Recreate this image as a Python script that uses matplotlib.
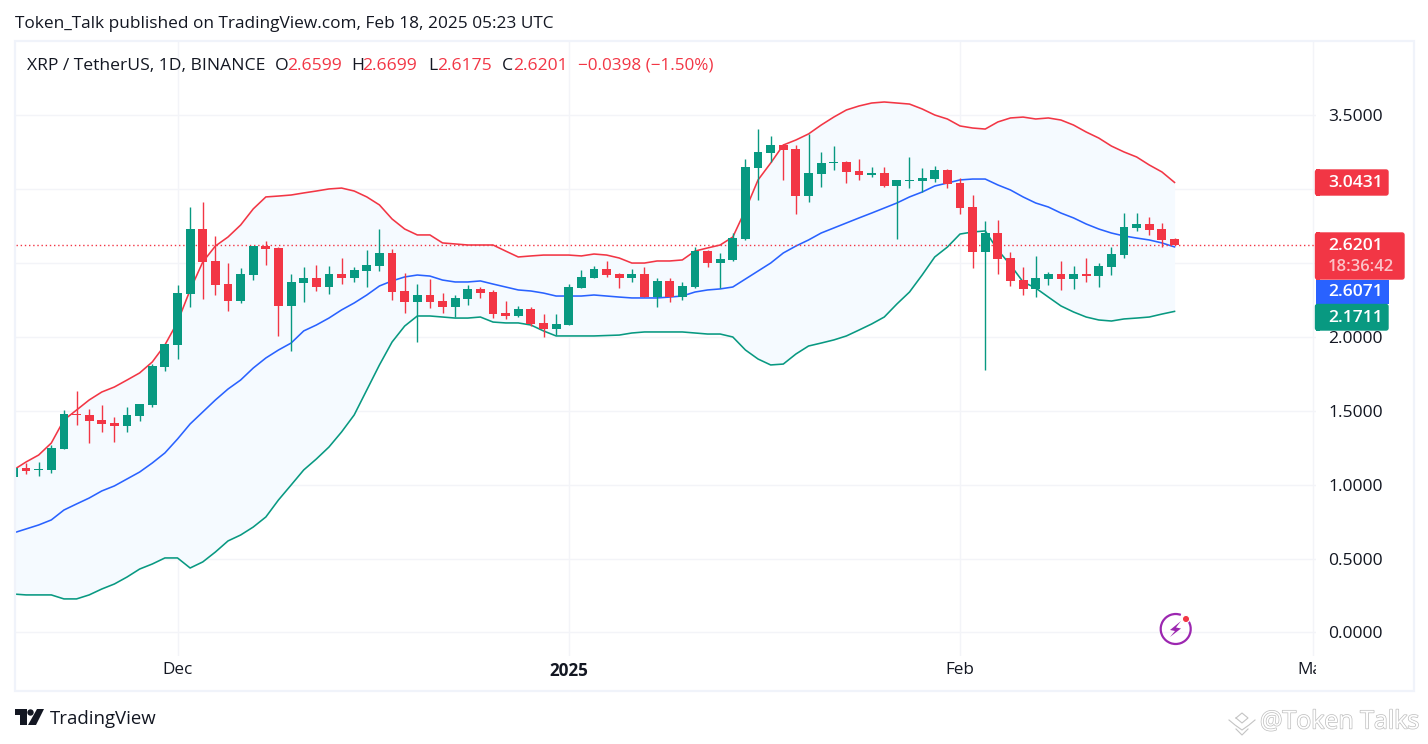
import numpy as np
import pandas as pd
import matplotlib
matplotlib.use('Agg')
import matplotlib.pyplot as plt
import matplotlib.dates as mdates
import matplotlib.patheffects as pe
from matplotlib.patches import Rectangle, FancyBboxPatch, Polygon, Circle, Arc
from matplotlib.transforms import Bbox

plt.rcParams['font.family'] = ['Open Sans', 'DejaVu Sans']

RED = '#f23645'
GREEN = '#089981'
BLUE = '#2962ff'
GRID = '#f3f4f8'
INK = '#131722'

dates = pd.date_range('2024-11-18', '2025-02-18')

opens = [1.051, 1.112, 1.099, 1.099, 1.241, 1.477, 1.471, 1.437, 1.416, 1.396, 1.464, 1.538, 1.795,
         1.944, 2.289, 2.728, 2.512, 2.356, 2.241, 2.417, 2.613, 2.600, 2.208, 2.363, 2.397, 2.336, 2.424, 2.397, 2.444, 2.478, 2.566, 2.309, 2.235, 2.282, 2.241, 2.201, 2.255, 2.323, 2.302, 2.160, 2.140, 2.187, 2.093, 2.052,
         2.079, 2.329, 2.397, 2.458, 2.424, 2.397, 2.424, 2.268, 2.377, 2.268, 2.336, 2.579, 2.498, 2.519, 2.661, 3.141, 3.242, 3.296, 3.269, 2.951, 3.100, 3.174, 3.181, 3.120, 3.093, 3.107, 3.019, 3.053, 3.053, 3.066, 3.127,
         3.039, 2.877, 2.573, 2.701, 2.532, 2.383, 2.323, 2.390, 2.424, 2.390, 2.424, 2.410, 2.471, 2.552, 2.735, 2.762, 2.728, 2.6599]
highs = [1.112, 1.148, 1.153, 1.268, 1.504, 1.633, 1.511, 1.538, 1.457, 1.525, 1.545, 1.815, 1.951,
         2.350, 2.877, 2.911, 2.681, 2.498, 2.465, 2.613, 2.647, 2.606, 2.424, 2.471, 2.485, 2.478, 2.532, 2.471, 2.586, 2.728, 2.593, 2.431, 2.356, 2.390, 2.295, 2.282, 2.350, 2.336, 2.316, 2.241, 2.208, 2.201, 2.153, 2.153,
         2.356, 2.451, 2.478, 2.512, 2.431, 2.458, 2.471, 2.397, 2.397, 2.370, 2.606, 2.586, 2.566, 2.701, 3.201, 3.404, 3.357, 3.303, 3.296, 3.371, 3.249, 3.289, 3.188, 3.201, 3.147, 3.147, 3.060, 3.215, 3.141, 3.154, 3.134,
         3.073, 2.958, 2.782, 2.789, 2.573, 2.471, 2.546, 2.438, 2.512, 2.478, 2.532, 2.498, 2.606, 2.836, 2.836, 2.809, 2.769, 2.6699]
lows = [1.045, 1.074, 1.058, 1.081, 1.241, 1.403, 1.281, 1.356, 1.288, 1.356, 1.430, 1.525, 1.768,
        1.849, 2.201, 2.255, 2.282, 2.174, 2.228, 2.383, 2.485, 2.005, 1.903, 2.235, 2.309, 2.289, 2.356, 2.370, 2.336, 2.444, 2.248, 2.160, 1.964, 2.194, 2.160, 2.133, 2.214, 2.262, 2.126, 2.120, 2.133, 2.072, 1.998, 2.011,
        2.079, 2.329, 2.397, 2.404, 2.329, 2.370, 2.268, 2.201, 2.235, 2.248, 2.329, 2.471, 2.329, 2.512, 2.654, 2.924, 3.181, 3.060, 2.830, 2.911, 3.012, 3.127, 3.039, 3.060, 3.080, 3.012, 2.661, 3.005, 2.978, 3.046, 3.005,
        2.830, 2.465, 1.775, 2.424, 2.343, 2.282, 2.268, 2.350, 2.316, 2.323, 2.370, 2.336, 2.417, 2.532, 2.715, 2.688, 2.606, 2.6175]
closes = [1.112, 1.092, 1.105, 1.247, 1.477, 1.471, 1.430, 1.410, 1.396, 1.471, 1.545, 1.802, 1.951,
          2.295, 2.728, 2.505, 2.350, 2.241, 2.424, 2.613, 2.593, 2.208, 2.370, 2.397, 2.336, 2.424, 2.397, 2.451, 2.485, 2.566, 2.302, 2.235, 2.282, 2.235, 2.201, 2.262, 2.323, 2.295, 2.153, 2.140, 2.187, 2.086, 2.052, 2.086,
          2.336, 2.404, 2.458, 2.417, 2.397, 2.424, 2.268, 2.377, 2.268, 2.343, 2.579, 2.498, 2.525, 2.667, 3.147, 3.249, 3.296, 3.262, 2.951, 3.107, 3.174, 3.181, 3.114, 3.093, 3.107, 3.019, 3.060, 3.060, 3.073, 3.127, 3.032,
          2.870, 2.573, 2.701, 2.525, 2.377, 2.323, 2.397, 2.424, 2.390, 2.424, 2.410, 2.478, 2.559, 2.742, 2.762, 2.721, 2.654, 2.6201]

upper_band = [1.099, 1.153, 1.200, 1.281, 1.437, 1.504, 1.572, 1.626, 1.660, 1.707, 1.755, 1.829, 1.944,
              2.099, 2.316, 2.505, 2.613, 2.674, 2.755, 2.864, 2.945, 2.951, 2.958, 2.972, 2.985, 2.999, 3.005, 2.985, 2.945, 2.891, 2.796, 2.728, 2.688, 2.688, 2.634, 2.627, 2.620, 2.620, 2.620, 2.579, 2.539, 2.546, 2.552, 2.552,
              2.552, 2.546, 2.559, 2.552, 2.532, 2.498, 2.498, 2.512, 2.512, 2.519, 2.579, 2.600, 2.620, 2.674, 2.857, 3.060, 3.174, 3.296, 3.330, 3.371, 3.431, 3.485, 3.533, 3.560, 3.580, 3.587, 3.580, 3.573, 3.540, 3.499, 3.472,
              3.425, 3.411, 3.404, 3.452, 3.479, 3.485, 3.472, 3.479, 3.465, 3.431, 3.384, 3.343, 3.289, 3.249, 3.215, 3.161, 3.114, 3.0431]
basis_band = [0.673, 0.700, 0.727, 0.761, 0.828, 0.869, 0.909, 0.957, 0.991, 1.038, 1.085, 1.146, 1.214,
              1.308, 1.410, 1.491, 1.572, 1.646, 1.707, 1.788, 1.856, 1.910, 1.957, 2.039, 2.079, 2.126, 2.181, 2.228, 2.282, 2.343, 2.377, 2.404, 2.417, 2.410, 2.383, 2.370, 2.370, 2.377, 2.356, 2.336, 2.316, 2.309, 2.295, 2.275,
              2.275, 2.275, 2.282, 2.275, 2.268, 2.262, 2.262, 2.262, 2.268, 2.275, 2.302, 2.316, 2.323, 2.336, 2.390, 2.444, 2.498, 2.566, 2.613, 2.654, 2.701, 2.735, 2.769, 2.803, 2.836, 2.870, 2.904, 2.945, 2.978, 3.019, 3.039,
              3.060, 3.066, 3.066, 3.026, 2.992, 2.945, 2.904, 2.877, 2.836, 2.803, 2.762, 2.728, 2.701, 2.681, 2.667, 2.654, 2.634, 2.6071]
lower_band = [0.260, 0.254, 0.254, 0.254, 0.227, 0.227, 0.254, 0.294, 0.328, 0.375, 0.429, 0.463, 0.504,
              0.504, 0.436, 0.477, 0.544, 0.619, 0.659, 0.713, 0.781, 0.896, 0.997, 1.099, 1.173, 1.254, 1.356, 1.471, 1.640, 1.809, 1.964, 2.072, 2.140, 2.140, 2.133, 2.126, 2.126, 2.133, 2.099, 2.093, 2.093, 2.079, 2.039, 2.005,
              2.005, 2.005, 2.005, 2.008, 2.011, 2.025, 2.032, 2.032, 2.032, 2.032, 2.025, 2.018, 2.018, 1.998, 1.910, 1.849, 1.809, 1.815, 1.883, 1.937, 1.957, 1.978, 2.005, 2.045, 2.086, 2.133, 2.221, 2.302, 2.417, 2.539, 2.606,
              2.694, 2.708, 2.715, 2.586, 2.485, 2.370, 2.329, 2.268, 2.208, 2.167, 2.133, 2.113, 2.106, 2.120, 2.126, 2.133, 2.153, 2.1711]

price_ticks = [0.0, 0.5, 1.0, 1.5, 2.0, 2.5, 3.0, 3.5]
# 2.5000 and 3.0000 are hidden behind the price tags in the picture
price_labels = ['0.0000', '0.5000', '1.0000', '1.5000', '2.0000', '', '', '3.5000']
time_ticks = ['2024-12-01', '2025-01-01', '2025-02-01', '2025-03-01']
time_labels = ['Dec', '2025', 'Feb', 'Mar']

last_price = closes[-1]
ohlc_labels = ['O', 'H', 'L', 'C']
ohlc_values = [opens[-1], highs[-1], lows[-1], closes[-1]]
ohlc_label_x = [275, 351.5, 428.5, 502]
ohlc_value_x = [287, 362, 437.5, 513]


def draw_candles(ax, x):
    for i in range(len(x)):
        color = GREEN if closes[i] >= opens[i] else RED
        ax.vlines(x[i], lows[i], highs[i], color=color, lw=1.0, zorder=4)
        bottom = min(opens[i], closes[i])
        height = max(abs(closes[i] - opens[i]), 0.008)
        ax.bar(x[i], height, bottom=bottom, width=0.70, color=color, lw=0, zorder=5)


def draw_tag(over, x0, y0, x1, y1, color):
    over.add_patch(FancyBboxPatch((x0, y0 + 1), x1 - x0 - 1, y1 - y0 - 2,
                                  boxstyle='round,pad=0,rounding_size=2',
                                  mutation_aspect=1, fc=color, ec=color, lw=1))
    over.add_patch(Rectangle((x0, y0), 4, y1 - y0, fc=color, ec='none'))


fig = plt.figure(figsize=(14.28, 7.44), dpi=100, facecolor='white')
ax = fig.add_axes([15.5 / 1428, (744 - 656) / 744, 1300 / 1428, 614 / 744])

x = mdates.date2num(dates)
ax.set_xlim(x[0] + 0.163, x[0] + 103.17)
ax.set_ylim(-0.159, 3.9926)

ax.fill_between(x, lower_band, upper_band, color='#f5faff', lw=0, zorder=1)
ax.plot(x, upper_band, color=RED, lw=1.15, zorder=3)
ax.plot(x, basis_band, color=BLUE, lw=1.15, zorder=3)
ax.plot(x, lower_band, color=GREEN, lw=1.15, zorder=3)
ax.axhline(last_price, color=RED, lw=1.0, dashes=(1, 2), zorder=3.5)
draw_candles(ax, x)

for s in ax.spines.values():
    s.set_visible(False)
ax.set_axisbelow(True)
ax.grid(True, color=GRID, lw=1.0)
ax.yaxis.tick_right()
ax.set_yticks(price_ticks)
ax.set_yticklabels(price_labels, fontsize=12.6, color=INK)
ax.set_xticks(mdates.date2num(pd.to_datetime(time_ticks)))
ax.set_xticklabels(time_labels, fontsize=12.3, color=INK)
ax.get_xticklabels()[1].set_fontweight('bold')
ax.tick_params(axis='both', length=0)
ax.tick_params(axis='y', pad=9)
ax.tick_params(axis='x', pad=4)
mar = ax.get_xticklabels()[3]
mar.set_clip_box(Bbox.from_extents(1280, 0, 1315.5, 744))
mar.set_clip_on(True)

# everything below sits on a page overlay measured in picture pixels
over = fig.add_axes([0, 0, 1, 1], zorder=10)
over.set_xlim(0, 1428)
over.set_ylim(744, 0)
over.axis('off')

over.add_patch(Rectangle((15, 41), 1399, 649.5, fc='none', ec='#f0f3fa', lw=1.6))

over.text(15, 24.5, 'Token_Talk published on TradingView.com, Feb 18, 2025 05:23 UTC',
          fontsize=12.4, color=INK, va='center')
over.text(27, 65.5, 'XRP / TetherUS, 1D, BINANCE', fontsize=12.6, color=INK, va='center')
for i in range(4):
    over.text(ohlc_label_x[i], 65.5, ohlc_labels[i], fontsize=12.6, color=INK, va='center')
    over.text(ohlc_value_x[i], 65.5, '%.4f' % ohlc_values[i], fontsize=12.6, color=RED, va='center')
over.text(578, 65.5, '\u22120.0398 (\u22121.50%)', fontsize=12.3, color=RED, va='center')

draw_tag(over, 1315.5, 169, 1389, 196, RED)
draw_tag(over, 1315.5, 232, 1405, 280, RED)
over.add_patch(Rectangle((1315.5, 280), 73.5, 24, fc=BLUE, ec='none'))
draw_tag(over, 1315.5, 303.5, 1389, 331, GREEN)
over.text(1328, 183, '%.4f' % upper_band[-1], fontsize=12.6, color='white', va='center', fontweight='semibold')
over.text(1328, 246.5, '%.4f' % last_price, fontsize=12.6, color='white', va='center', fontweight='semibold')
over.text(1328, 267, '18:36:42', fontsize=12.0, color='#fbc2c7', va='center', fontweight='semibold')
over.text(1328, 292.5, '%.4f' % basis_band[-1], fontsize=12.6, color='white', va='center', fontweight='semibold')
over.text(1328, 317.5, '%.4f' % lower_band[-1], fontsize=12.6, color='white', va='center', fontweight='semibold')

# lightning badge
over.add_patch(Arc((1175.7, 629), 30, 30, theta1=-30, theta2=290, color='#9c27b0', lw=1.6))
over.add_patch(Polygon([(1181, 621), (1170, 630), (1175, 631), (1170, 637), (1181, 628.5), (1176, 627.5)],
                       fc='#9c27b0', ec='none'))
over.add_patch(Circle((1186, 619), 3.6, fc=RED, ec='white', lw=0.8))

# TradingView logo
over.add_patch(Polygon([(15, 709), (27, 709), (27, 725), (20, 725), (20, 715), (15, 715)], fc=INK, ec='none'))
over.add_patch(Circle((30.5, 712.5), 3.2, fc=INK, ec='none'))
over.add_patch(Polygon([(37, 709), (44, 709), (36, 725), (28, 725)], fc=INK, ec='none'))
over.text(50, 719, 'TradingView', fontsize=13.4, color=INK, va='center')

# watermark
mark = over.text(1260, 722, '@Token Talks', fontsize=18, color='white', va='center')
mark.set_path_effects([pe.withStroke(linewidth=1.0, foreground='#bdbdbd')])
over.plot([1236, 1242, 1248, 1242, 1236], [718, 713, 718, 723, 718], color='#c4c4c4', lw=0.8)
over.plot([1229, 1235, 1242, 1249, 1255], [720, 725, 730, 725, 720], color='#c4c4c4', lw=0.8)
over.plot([1236, 1242, 1248], [729, 735, 729], color='#c4c4c4', lw=0.8)

fig.savefig('out.png', dpi=100)
